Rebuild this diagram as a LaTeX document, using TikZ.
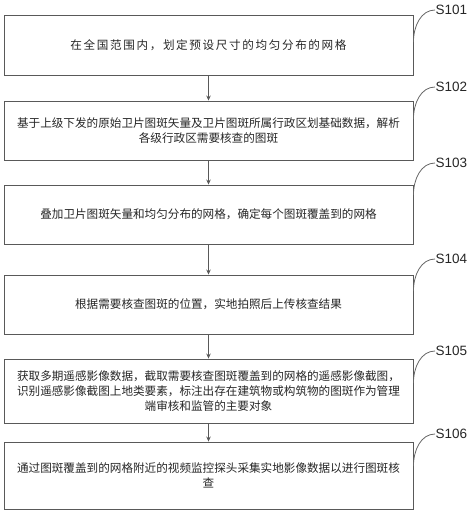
\documentclass[tikz,border=0pt]{standalone}
\usepackage{fontspec}
\setmainfont{Liberation Sans}
\newfontfamily\cjk{Noto Sans CJK SC}
\newfontfamily\cjkwide[LetterSpace=14]{Noto Sans CJK SC}
\usetikzlibrary{arrows.meta,calc}
\begin{document}
\begin{tikzpicture}[x=1pt,y=-1pt,
  box/.style={draw=black!65, line width=0.9pt, minimum width=409pt, inner sep=0pt,
    align=center, font=\cjk\fontsize{11.6}{15}\selectfont, text=black!85},
  arr/.style={draw=black!65, line width=0.9pt, -{Stealth[length=5pt,width=4.5pt]}},
  lab/.style={anchor=west, inner sep=0.5pt, font=\fontsize{13.5}{15}\selectfont, text=black!85},
  lead/.style={draw=black!60, line width=0.8pt}]
\useasboundingbox (0,0) rectangle (474,514);
% boxes
\node[box, minimum height=60pt] (b1) at (208.5,45)
  {{\cjkwide 在全国范围内，划定预设尺寸的均匀分布的网格}};
\node[box, minimum height=59pt] (b2) at (208.5,130.5)
  {基于上级下发的原始卫片图斑矢量及卫片图斑所属行政区划基础数据，解析\\各级行政区需要核查的图斑};
\node[box, minimum height=59pt] (b3) at (208.5,214.5)
  {叠加卫片图斑矢量和均匀分布的网格，确定每个图斑覆盖到的网格};
\node[box, minimum height=59pt] (b4) at (208.5,304.5)
  {根据需要核查图斑的位置，实地拍照后上传核查结果};
\node[box, minimum height=64pt] (b5) at (208.5,391)
  {获取多期遥感影像数据，截取需要核查图斑覆盖到的网格的遥感影像截图，\\识别遥感影像截图上地类要素，标注出存在建筑物或构筑物的图斑作为管理\\端审核和监管的主要对象};
\node[box, minimum height=67pt] (b6) at (208.5,475.5)
  {通过图斑覆盖到的网格附近的视频监控探头采集实地影像数据以进行图斑核\\查};
% arrows
\draw[arr] (b1.south) -- (b2.north);
\draw[arr] (b2.south) -- (b3.north);
\draw[arr] (b3.south) -- (b4.north);
\draw[arr] (b4.south) -- (b5.north);
\draw[arr] (b5.south) -- (b6.north);
% labels
\foreach \i/\ly in {1/10,2/87,3/163,4/259,5/351,6/434}{
  \node[lab] (l\i) at (435,\ly) {S10\i};
  \coordinate (e\i) at (b\i.east |- 0,\ly+32);
  \draw[lead] (l\i.west) .. controls ($(l\i.west)+(-14,0)$) and ($(e\i)+(0,-16)$) .. (e\i);
}
\end{tikzpicture}
\end{document}
